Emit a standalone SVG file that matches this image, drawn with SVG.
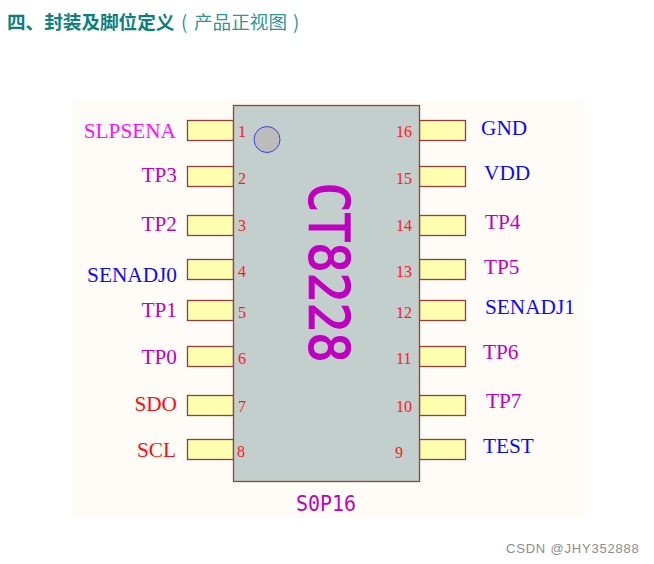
<svg xmlns="http://www.w3.org/2000/svg" width="654" height="564" viewBox="0 0 654 564">
<style>
.pin{fill:#ffffb0;stroke:#963c3c;stroke-width:1.3}
.n{font-family:"Liberation Serif",serif;font-size:16px;fill:#ff1818}
.l{font-family:"Liberation Serif",serif;font-size:21.300px}
.e{text-anchor:end}
.mg{fill:#ff10ff}.pu{fill:#c000c0}.bl{fill:#0c0cf4}.re{fill:#ff0c0c}
</style>
<rect width="654" height="564" fill="#fff"/>
<text x="7" y="29" font-family="'Noto Sans CJK SC',sans-serif" font-size="18.600" font-weight="700" fill="#0d7f7f">四、封装及脚位定义</text>
<text y="29" font-family="'Noto Sans CJK SC',sans-serif" font-size="18.600" fill="#2f9595"><tspan x="181">(</tspan><tspan x="194">产品正视图</tspan><tspan x="293">)</tspan></text>
<rect x="72" y="99" width="513" height="419" fill="#fffbf7"/>
<g id="pins-left">
<rect class="pin" x="187.500" y="120.500" width="46" height="20"/>
<rect class="pin" x="187.500" y="166.500" width="46" height="20"/>
<rect class="pin" x="187.500" y="215.500" width="46" height="20"/>
<rect class="pin" x="187.500" y="259.500" width="46" height="20"/>
<rect class="pin" x="187.500" y="300.500" width="46" height="20"/>
<rect class="pin" x="187.500" y="346.500" width="46" height="20"/>
<rect class="pin" x="187.500" y="395.500" width="46" height="20"/>
<rect class="pin" x="187.500" y="439.500" width="46" height="20"/>
</g>
<g id="pins-right">
<rect class="pin" x="419.500" y="120.500" width="46" height="20"/>
<rect class="pin" x="419.500" y="166.500" width="46" height="20"/>
<rect class="pin" x="419.500" y="215.500" width="46" height="20"/>
<rect class="pin" x="419.500" y="259.500" width="46" height="20"/>
<rect class="pin" x="419.500" y="300.500" width="46" height="20"/>
<rect class="pin" x="419.500" y="346.500" width="46" height="20"/>
<rect class="pin" x="419.500" y="395.500" width="46" height="20"/>
<rect class="pin" x="419.500" y="439.500" width="46" height="20"/>
</g>
<g id="chip">
<rect x="233.500" y="105.500" width="186" height="376" fill="#c3cfcd" stroke="#a03c3c" stroke-width="1.300"/>
<circle cx="267" cy="139.500" r="13" fill="#bcbcbc" stroke="#3c3cf0" stroke-width="1"/>
<text transform="translate(309.500,272.500) rotate(90)" text-anchor="middle" font-family="'DejaVu Sans Mono',monospace" font-size="56" fill="#c000c0" stroke="#c000c0" stroke-width="1.400" textLength="180" lengthAdjust="spacingAndGlyphs">CT8228</text>
<text transform="translate(326,510.500) scale(1,1.080)" text-anchor="middle" font-family="'DejaVu Sans Mono',monospace" font-size="20" fill="#c000c0">S0P16</text>
</g>
<g id="pin-numbers">
<text class="n" x="238" y="137">1</text><text class="n" x="238" y="184">2</text><text class="n" x="238" y="231">3</text><text class="n" x="238" y="277">4</text><text class="n" x="238" y="318">5</text><text class="n" x="238" y="364">6</text><text class="n" x="238" y="412">7</text><text class="n" x="237" y="457">8</text>
<text class="n" x="396" y="137">16</text><text class="n" x="396" y="184">15</text><text class="n" x="396" y="231">14</text><text class="n" x="396" y="277">13</text><text class="n" x="396" y="318">12</text><text class="n" x="396" y="364">11</text><text class="n" x="396" y="412">10</text><text class="n" x="395" y="458">9</text>
</g>
<g id="labels-left">
<text class="l e mg" x="176" y="138">SLPSENA</text>
<text class="l e pu" x="177" y="182">TP3</text>
<text class="l e pu" x="177" y="231">TP2</text>
<text class="l e bl" x="177" y="282">SENADJ0</text>
<text class="l e pu" x="177" y="317">TP1</text>
<text class="l e pu" x="177" y="364">TP0</text>
<text class="l e re" x="177" y="411">SDO</text>
<text class="l e re" x="176" y="457">SCL</text>
</g>
<g id="labels-right">
<text class="l bl" x="481" y="135">GND</text>
<text class="l bl" x="484" y="180">VDD</text>
<text class="l pu" x="485" y="229">TP4</text>
<text class="l pu" x="484" y="274">TP5</text>
<text class="l bl" x="485" y="314">SENADJ1</text>
<text class="l pu" x="483" y="359">TP6</text>
<text class="l pu" x="486" y="408">TP7</text>
<text class="l bl" x="483" y="453">TEST</text>
</g>
<text x="506" y="553" font-family="'Liberation Sans',sans-serif" font-size="13" fill="#8c8c8c" letter-spacing=".8">CSDN @JHY352888</text>
</svg>
